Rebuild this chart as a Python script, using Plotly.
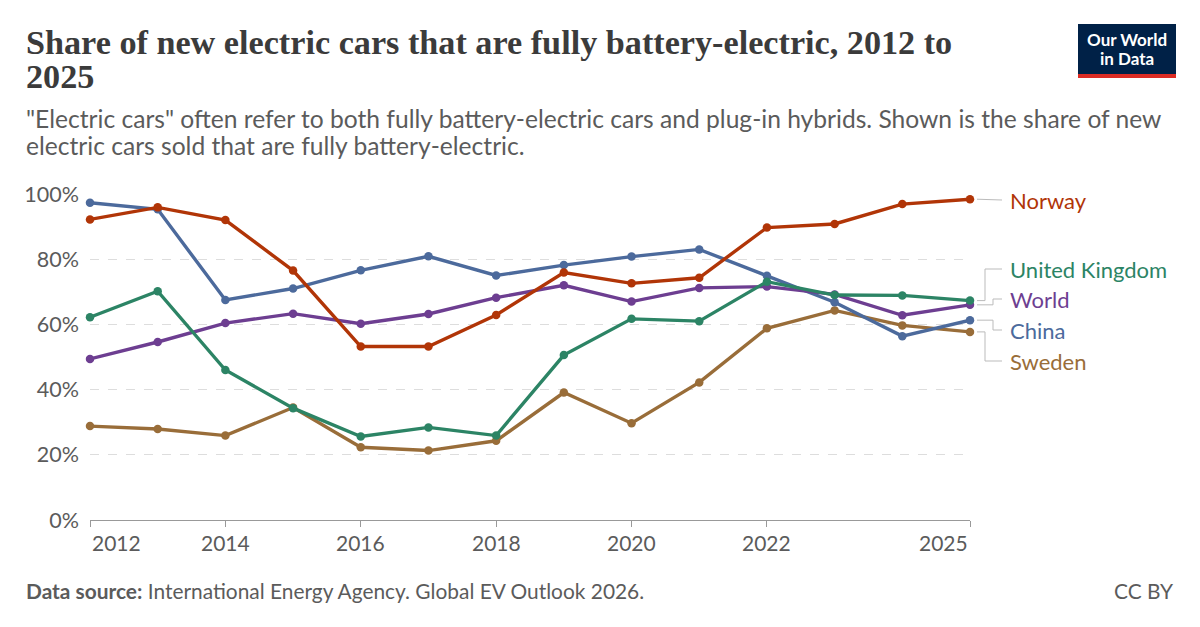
import plotly.graph_objects as go

years = list(range(2012, 2026))
norway = [92.2, 95.9, 92.0, 76.5, 53.2, 53.2, 62.9, 75.9, 72.6, 74.3, 89.7, 90.8, 96.9, 98.4]
china = [97.3, 95.3, 67.5, 71.0, 76.6, 80.9, 75.0, 78.2, 80.8, 83.0, 74.9, 66.8, 56.4, 61.3]
uk = [62.2, 70.2, 46.0, 34.3, 25.6, 28.4, 25.9, 50.6, 61.7, 61.0, 73.1, 69.0, 68.9, 67.3]
world = [49.4, 54.6, 60.4, 63.3, 60.2, 63.2, 68.2, 72.0, 67.0, 71.2, 71.6, 69.2, 62.8, 66.0]
sweden = [28.8, 27.9, 25.9, 34.5, 22.3, 21.3, 24.3, 39.1, 29.7, 42.2, 58.8, 64.3, 59.7, 57.7]

series_names = ["Norway", "United Kingdom", "World", "China", "Sweden"]
series_values = [norway, uk, world, china, sweden]
series_colors = ["#B13507", "#2C8465", "#6D3E91", "#4C6A9C", "#996D39"]

x_tick_vals = [2012, 2014, 2016, 2018, 2020, 2022, 2025]
y_tick_vals = [0, 20, 40, 60, 80, 100]
y_tick_text = ["0%", "20%", "40%", "60%", "80%", "100%"]

title_lines = ["Share of new electric cars that are fully battery-electric, 2012 to", "2025"]
subtitle_lines = ["\"Electric cars\" often refer to both fully battery-electric cars and plug-in hybrids. Shown is the share of new",
                  "electric cars sold that are fully battery-electric."]
source_text = "<b>Data source:</b> International Energy Agency. Global EV Outlook 2026."
license_text = "CC BY"

# Layout geometry (pixels)
W, H = 1200, 627
L, R, T, B = 90, 230, 194, 107
PW, PH = W - L - R, H - T - B
X0, X1 = 2012, 2025
Y0, Y1 = 0, 100


def xpx(v):
    return L + (v - X0) / (X1 - X0) * PW


def ypx(v):
    return T + (Y1 - v) / (Y1 - Y0) * PH


def px(x):
    return (x - L) / PW


def py(y):
    return (H - B - y) / PH


# label vertical positions (pixels) after de-overlap
label_px_y = [200, 269, 299, 330, 361]
label_elbow_px = [None, 985, 993, 993, 985]

GREY = "#5b5b5b"
FONT = "Lato"

fig = go.Figure()
for name, vals, col in list(zip(series_names, series_values, series_colors))[::-1]:
    fig.add_trace(go.Scatter(
        x=years, y=vals, mode="lines+markers", name=name,
        line=dict(color=col, width=3.4),
        marker=dict(color=col, size=8.5),
        cliponaxis=False, showlegend=False,
    ))

shapes = []
annotations = []

for name, vals, col, ly, ex in zip(series_names, series_values, series_colors, label_px_y, label_elbow_px):
    endx = xpx(years[-1]) + 7
    endy = ypx(vals[-1])
    line_end_x = 1002
    if ex is None:
        path = f"M {px(endx)} {py(endy)} L {px(line_end_x)} {py(ly)}"
    else:
        path = (f"M {px(endx)} {py(endy)} L {px(ex)} {py(endy)} "
                f"L {px(ex)} {py(ly)} L {px(line_end_x)} {py(ly)}")
    shapes.append(dict(type="path", xref="paper", yref="paper", path=path,
                       line=dict(color="#bbbbbb", width=1)))
    annotations.append(dict(xref="paper", yref="paper", x=px(1008), y=py(ly),
                            text=name, showarrow=False, xanchor="left", yanchor="middle",
                            font=dict(family=FONT, size=22, color=col)))

for v in x_tick_vals:
    anchor = "center"
    if v == x_tick_vals[0]:
        anchor = "left"
    elif v == x_tick_vals[-1]:
        anchor = "right"
    annotations.append(dict(xref="x", yref="y", x=v, y=0, text=str(v), showarrow=False,
                            xanchor=anchor, yanchor="top", yshift=-8,
                            font=dict(family=FONT, size=21, color=GREY)))

for line, cy in zip(title_lines, [42, 76]):
    annotations.append(dict(xref="paper", yref="paper", x=px(24), y=py(cy), xanchor="left", yanchor="middle",
                            showarrow=False, text=f"<b>{line}</b>",
                            font=dict(family="Liberation Serif", size=34.2, color="#3b3b3b")))
for line, cy in zip(subtitle_lines, [118.5, 145.5]):
    annotations.append(dict(xref="paper", yref="paper", x=px(24), y=py(cy), xanchor="left", yanchor="middle",
                            showarrow=False, text=line,
                            font=dict(family=FONT, size=24.6, color=GREY)))

annotations.append(dict(xref="paper", yref="paper", x=px(24), y=py(590), xanchor="left", yanchor="middle",
                        showarrow=False, text=source_text,
                        font=dict(family=FONT, size=20.9, color=GREY)))
annotations.append(dict(xref="paper", yref="paper", x=px(1176), y=py(590), xanchor="right", yanchor="middle",
                        showarrow=False, text=license_text,
                        font=dict(family=FONT, size=20.9, color=GREY)))

# logo
shapes.append(dict(type="rect", xref="paper", yref="paper", x0=px(1078), x1=px(1176), y0=py(74), y1=py(24),
                   fillcolor="#002147", line=dict(width=0)))
shapes.append(dict(type="rect", xref="paper", yref="paper", x0=px(1078), x1=px(1176), y0=py(78), y1=py(74),
                   fillcolor="#DC2C24", line=dict(width=0)))
for line, cy in zip(["Our World", "in Data"], [39.5, 58]):
    annotations.append(dict(xref="paper", yref="paper", x=px(1127), y=py(cy), xanchor="center", yanchor="middle",
                            showarrow=False, text=f"<b>{line}</b>",
                            font=dict(family=FONT, size=17, color="white")))

fig.update_layout(
    width=W, height=H,
    margin=dict(l=L, r=R, t=T, b=B, pad=0),
    paper_bgcolor="white", plot_bgcolor="white",
    shapes=shapes, annotations=annotations,
    xaxis=dict(range=[X0, X1], tickvals=x_tick_vals, showticklabels=False,
               ticks="outside", ticklen=6, tickcolor="#999999", tickwidth=1,
               showgrid=False, zeroline=False, showline=True, linecolor="#999999", linewidth=1),
    yaxis=dict(range=[Y0, Y1], tickvals=y_tick_vals, ticktext=y_tick_text,
               showgrid=True, gridcolor="#dddddd", griddash="dash", gridwidth=1,
               zeroline=False, showline=False, ticks="", ticklabelstandoff=10,
               tickfont=dict(family=FONT, size=21.5, color=GREY)),
)

fig.write_html("out.html")
